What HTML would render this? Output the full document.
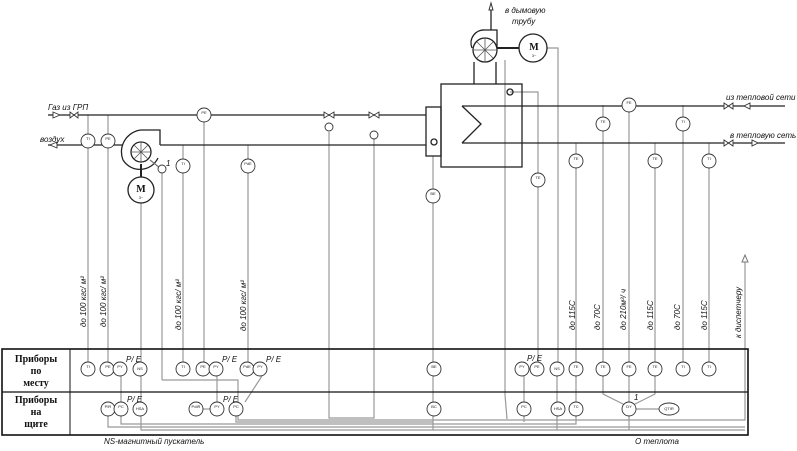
<!DOCTYPE html>
<html><head><meta charset="utf-8"><style>
html,body{margin:0;padding:0;background:#fff;}
svg{display:block;}
.t{font-family:"Liberation Sans",sans-serif;font-style:italic;font-size:8px;fill:#111;}
.s{font-family:"Liberation Sans",sans-serif;font-size:4px;fill:#222;}
.h{font-family:"Liberation Serif",serif;font-size:10px;fill:#111;font-weight:bold;}
</style></head><body>
<svg width="797" height="451" viewBox="0 0 797 451" xmlns="http://www.w3.org/2000/svg">
<g fill="none" stroke="#999" stroke-width="1.2">
<!-- vertical signal lines -->
<line x1="88" y1="115" x2="88" y2="362"/>
<line x1="108" y1="115" x2="108" y2="362"/>
<line x1="141" y1="203" x2="141" y2="362"/>
<line x1="162" y1="173" x2="162" y2="380"/>
<polyline points="162,380 238,380 238,420 745,420 745,262"/>
<line x1="183" y1="145" x2="183" y2="362"/>
<line x1="204" y1="122" x2="204" y2="362"/>
<line x1="248" y1="145" x2="248" y2="362"/>
<polyline points="329,132 329,418 374,418 374,139"/>
<line x1="433" y1="156" x2="433" y2="402"/>
<polyline points="505,60 505,395 507,419"/>
<polyline points="510,92 538,92 538,362"/>
<polyline points="547,48 558,48 558,362"/>
<line x1="576" y1="143" x2="576" y2="362"/>
<line x1="603" y1="105" x2="603" y2="362"/>
<line x1="629" y1="112" x2="629" y2="402"/>
<line x1="655" y1="143" x2="655" y2="362"/>
<line x1="683" y1="105" x2="683" y2="362"/>
<line x1="709" y1="143" x2="709" y2="362"/>
<!-- table internal links -->
<line x1="121" y1="376" x2="121" y2="402"/>
<line x1="141" y1="376" x2="141" y2="402"/>
<line x1="217" y1="376" x2="217" y2="402"/>
<line x1="262" y1="376" x2="245" y2="402"/>
<line x1="201" y1="409" x2="210" y2="409"/>
<line x1="524" y1="376" x2="524" y2="402"/>
<line x1="557" y1="376" x2="557" y2="402"/>
<line x1="576" y1="376" x2="576" y2="402"/>
<polyline points="603,376 603,394 625,405"/>
<polyline points="655,376 655,394 633,405"/>
<line x1="636" y1="409" x2="660" y2="409"/>
<polyline points="108,416 108,427 745,427"/>
<polyline points="121,416 121,424 576,424 576,416"/>
<polyline points="236,416 236,422 433,422"/>
<line x1="433" y1="416" x2="433" y2="430"/>
<polyline points="141,416 141,430 745,430"/>
<polyline points="524,416 524,422 524,419"/>
<line x1="557" y1="416" x2="557" y2="430"/>
<line x1="629" y1="416" x2="629" y2="430"/>
</g>
<!-- arrow to dispatcher -->
<polygon points="745,255 742,262 748,262" fill="#fff" stroke="#777"/>
<g fill="none" stroke="#222" stroke-width="1.3">
<!-- gas line -->
<line x1="48" y1="115" x2="426" y2="115"/>
<!-- air line -->
<line x1="48" y1="145" x2="123" y2="145"/>
<line x1="160" y1="145" x2="426" y2="145"/>
<!-- fan -->
<path d="M123,160 A22,22 0 0 1 141,130 L160,130 L160,145"/>
<path d="M123,160 A20,20 0 0 0 158,158"/>
<circle cx="141" cy="152" r="10"/>
<circle cx="141" cy="190" r="13"/>
<line x1="141" y1="164" x2="141" y2="177" stroke-width="2"/>
<line x1="150" y1="160" x2="160" y2="168" stroke="#777"/>
<!-- boiler -->
<rect x="441" y="84" width="81" height="83"/>
<rect x="426" y="107" width="15" height="49"/>
<polyline points="462,106 785,106"/>
<polyline points="462,143 785,143"/>
<polyline points="462,106 481,124 462,143"/>
<circle cx="434" cy="142" r="3"/>
<circle cx="510" cy="92" r="3"/>
<!-- flue fan -->
<line x1="474" y1="84" x2="474" y2="62"/>
<line x1="496" y1="84" x2="496" y2="62"/>
<circle cx="485" cy="50" r="12"/>
<path d="M472,48 A13,13 0 0 1 485,30 L497,30 L497,48"/>
<line x1="491" y1="30" x2="491" y2="8"/>
<line x1="497" y1="48" x2="519" y2="48" stroke-width="2"/>
<circle cx="533" cy="48" r="14"/>
</g>
<polygon points="491,3 489,10 493,10" fill="#fff" stroke="#333"/>
<g stroke="#555" stroke-width="0.8">
<line x1="485" y1="38" x2="485" y2="62"/><line x1="473" y1="50" x2="497" y2="50"/>
<line x1="477" y1="42" x2="493" y2="58"/><line x1="477" y1="58" x2="493" y2="42"/>
<line x1="141" y1="142" x2="141" y2="162"/><line x1="131" y1="152" x2="151" y2="152"/>
<line x1="134" y1="145" x2="148" y2="159"/><line x1="134" y1="159" x2="148" y2="145"/>
</g>
<!-- valves & arrows on lines -->
<g fill="#fff" stroke="#333" stroke-width="0.9">
<polygon points="70,112 70,118 78,112 78,118"/>
<polygon points="53,112 53,118 60,115"/>
<polygon points="57,142 57,148 50,145"/>
<polygon points="324,112 324,118 334,112 334,118"/>
<polygon points="369,112 369,118 379,112 379,118"/>
<circle cx="329" cy="127" r="4"/>
<circle cx="374" cy="135" r="4"/>
<polygon points="724,103 724,109 733,103 733,109"/>
<polygon points="724,140 724,146 733,140 733,146"/>
<polygon points="750,103 750,109 744,106"/>
<polygon points="752,140 752,146 758,143"/>
<circle cx="162" cy="169" r="4"/>
</g>
<text x="534" y="50" class="h" text-anchor="middle" font-size="9">M</text>
<text x="534" y="57" class="s" text-anchor="middle">3~</text>
<text x="141" y="192" class="h" text-anchor="middle" font-size="9">M</text>
<text x="141" y="199" class="s" text-anchor="middle">3~</text>
<!-- labels -->
<text x="48" y="110" class="t">Газ из ГРП</text>
<text x="40" y="142" class="t">воздух</text>
<text x="505" y="13" class="t">в дымовую</text>
<text x="512" y="24" class="t">трубу</text>
<text x="726" y="100" class="t">из тепловой сети</text>
<text x="730" y="138" class="t">в тепловую сеть</text>
<text x="104" y="444" class="t">NS-магнитный пускатель</text>
<text x="635" y="444" class="t">О теплота</text>
<!-- vertical labels -->
<g class="t" font-size="7.5">
<text transform="translate(86,327) rotate(-90)">до 100 кгс/ м²</text>
<text transform="translate(106,327) rotate(-90)">до 100 кгс/ м²</text>
<text transform="translate(181,330) rotate(-90)">до 100 кгс/ м²</text>
<text transform="translate(246,331) rotate(-90)">до 100 кгс/ м²</text>
<text transform="translate(575,330) rotate(-90)">до 115С</text>
<text transform="translate(600,330) rotate(-90)">до 70С</text>
<text transform="translate(626,330) rotate(-90)">до 210м³/ ч</text>
<text transform="translate(653,330) rotate(-90)">до 115С</text>
<text transform="translate(680,330) rotate(-90)">до 70С</text>
<text transform="translate(707,330) rotate(-90)">до 115С</text>
<text transform="translate(741,338) rotate(-90)">к диспетчеру</text>
</g>
<!-- table -->
<g fill="none" stroke="#111">
<rect x="2" y="349" width="746" height="86" stroke-width="1.6"/>
<line x1="2" y1="392" x2="748" y2="392" stroke-width="1.3"/>
<line x1="70" y1="349" x2="70" y2="435" stroke-width="1"/>
</g>
<g class="h" text-anchor="middle" font-weight="bold">
<text x="36" y="362">Приборы</text><text x="36" y="374">по</text><text x="36" y="386">месту</text>
<text x="36" y="403">Приборы</text><text x="36" y="415">на</text><text x="36" y="427">щите</text>
</g>
<!-- instrument circles -->
<g fill="#fff" stroke="#333" stroke-width="0.9">
<circle cx="88" cy="141" r="7"/><circle cx="108" cy="141" r="7"/>
<circle cx="183" cy="166" r="7"/><circle cx="248" cy="166" r="7"/>
<circle cx="204" cy="115" r="7"/>
<circle cx="433" cy="196" r="7"/><circle cx="538" cy="180" r="7"/>
<circle cx="576" cy="161" r="7"/><circle cx="603" cy="124" r="7"/>
<circle cx="629" cy="105" r="7"/><circle cx="655" cy="161" r="7"/>
<circle cx="683" cy="124" r="7"/><circle cx="709" cy="161" r="7"/>
<!-- row 1 -->
<circle cx="88" cy="369" r="7"/><circle cx="107" cy="369" r="7"/><circle cx="120" cy="369" r="7"/><circle cx="140" cy="369" r="7"/>
<circle cx="183" cy="369" r="7"/><circle cx="203" cy="369" r="7"/><circle cx="216" cy="369" r="7"/>
<circle cx="247" cy="369" r="7"/><circle cx="260" cy="369" r="7"/>
<circle cx="434" cy="369" r="7"/><circle cx="522" cy="369" r="7"/><circle cx="537" cy="369" r="7"/>
<circle cx="557" cy="369" r="7"/><circle cx="576" cy="369" r="7"/><circle cx="603" cy="369" r="7"/>
<circle cx="629" cy="369" r="7"/><circle cx="655" cy="369" r="7"/><circle cx="683" cy="369" r="7"/><circle cx="709" cy="369" r="7"/>
<!-- row 2 -->
<circle cx="108" cy="409" r="7"/><circle cx="121" cy="409" r="7"/><circle cx="140" cy="409" r="7"/>
<circle cx="196" cy="409" r="7"/><circle cx="217" cy="409" r="7"/><circle cx="236" cy="409" r="7"/>
<circle cx="434" cy="409" r="7"/><circle cx="524" cy="409" r="7"/><circle cx="558" cy="409" r="7"/><circle cx="576" cy="409" r="7"/>
<circle cx="629" cy="409" r="7"/>
<ellipse cx="669" cy="409" rx="10" ry="6"/>
</g>
<g class="s" text-anchor="middle">
<text x="88" y="368">TI</text><text x="108" y="368">PE</text><text x="183" y="165">TI</text><text x="248" y="165">PdE</text>
<text x="204" y="114">PE</text><text x="433" y="195">BE</text><text x="538" y="179">TE</text>
<text x="576" y="160">TE</text><text x="603" y="123">TE</text><text x="629" y="104">FE</text>
<text x="655" y="160">TE</text><text x="683" y="123">TI</text><text x="709" y="160">TI</text>
<text x="88" y="140">TI</text><text x="108" y="140">PE</text>
<text x="140" y="370">NS</text><text x="557" y="370">NS</text>
<text x="434" y="368">BE</text><text x="434" y="408">BC</text>
<text x="524" y="408">PC</text><text x="576" y="408">TC</text><text x="558" y="410">HSA</text>
<text x="140" y="410">HSA</text><text x="629" y="408">DY</text><text x="669" y="410">QTIR</text>
<text x="603" y="368">TE</text><text x="629" y="368">FE</text><text x="655" y="368">TE</text><text x="683" y="368">TI</text><text x="709" y="368">TI</text>
<text x="576" y="368">TE</text><text x="522" y="368">PY</text><text x="537" y="368">PE</text>
<text x="120" y="368">PY</text><text x="216" y="368">PY</text><text x="260" y="368">PY</text><text x="247" y="368">PdE</text>
<text x="183" y="368">TI</text><text x="203" y="368">PE</text>
<text x="108" y="408">PIR</text><text x="121" y="408">PC</text><text x="196" y="408">PdIR</text><text x="217" y="408">PY</text><text x="236" y="408">PC</text>
</g>
<g class="t" font-size="6">
<text x="126" y="362">P/ E</text><text x="222" y="362">P/ E</text><text x="266" y="362">P/ E</text>
<text x="127" y="402">P/ E</text><text x="223" y="402">P/ E</text><text x="527" y="361">P/ E</text>
<text x="166" y="166">1</text><text x="634" y="400">1</text>
</g>
</svg>
</body></html>
